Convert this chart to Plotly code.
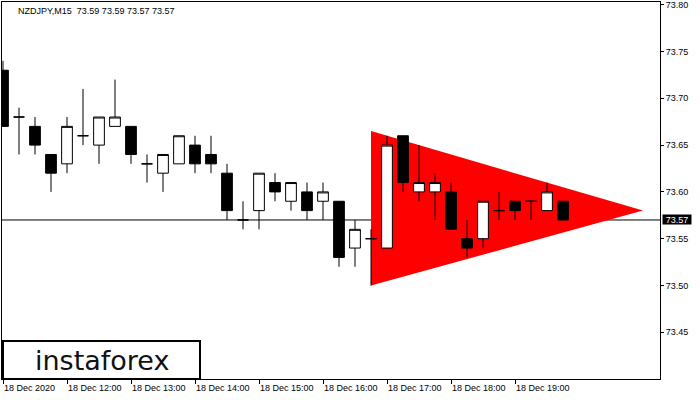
import plotly.graph_objects as go

# ---- data ----
bar_index = list(range(36))  # 15-minute bars starting 18 Dec 11:00
open_ = [73.73, 73.68, 73.67, 73.64, 73.63, 73.66, 73.65, 73.67, 73.67, 73.63,
         73.62, 73.63, 73.65, 73.64, 73.62, 73.57, 73.58, 73.61, 73.59, 73.60,
         73.59, 73.59, 73.54, 73.55, 73.54, 73.66, 73.60, 73.60, 73.60, 73.55,
         73.55, 73.58, 73.59, 73.59, 73.58, 73.59]
high_ = [73.74, 73.69, 73.68, 73.64, 73.68, 73.71, 73.68, 73.72, 73.67, 73.64,
         73.64, 73.66, 73.66, 73.66, 73.63, 73.59, 73.62, 73.62, 73.61, 73.61,
         73.61, 73.59, 73.57, 73.56, 73.66, 73.66, 73.65, 73.62, 73.61, 73.57,
         73.59, 73.60, 73.59, 73.59, 73.61, 73.59]
low_ = [73.67, 73.64, 73.64, 73.60, 73.62, 73.65, 73.63, 73.67, 73.63, 73.61,
        73.60, 73.63, 73.62, 73.62, 73.57, 73.56, 73.56, 73.59, 73.58, 73.57,
        73.57, 73.52, 73.52, 73.50, 73.54, 73.60, 73.59, 73.57, 73.56, 73.53,
        73.54, 73.57, 73.57, 73.57, 73.58, 73.57]
close_ = [73.67, 73.68, 73.65, 73.62, 73.67, 73.66, 73.68, 73.68, 73.64, 73.63,
          73.64, 73.66, 73.63, 73.63, 73.58, 73.57, 73.62, 73.60, 73.61, 73.58,
          73.60, 73.53, 73.56, 73.55, 73.65, 73.61, 73.61, 73.61, 73.56, 73.54,
          73.59, 73.58, 73.58, 73.59, 73.60, 73.57]

current_price = 73.57
current_label = "73.57"

# bearish symmetrical triangle pattern (bar index, price)
tri_x = [23, 40, 23]
tri_y = [73.665, 73.58, 73.50]

x_tick_index = [0, 4, 8, 12, 16, 20, 24, 28, 32]
x_tick_text = ["18 Dec 2020", "18 Dec 12:00", "18 Dec 13:00", "18 Dec 14:00",
               "18 Dec 15:00", "18 Dec 16:00", "18 Dec 17:00", "18 Dec 18:00",
               "18 Dec 19:00"]
y_tick_vals = [73.45, 73.50, 73.55, 73.60, 73.65, 73.70, 73.75, 73.80]
y_tick_text = ["73.45", "73.50", "73.55", "73.60", "73.65", "73.70", "73.75", "73.80"]

title_text = "NZDJPY,M15  73.59 73.59 73.57 73.57"
logo_text = "instaforex"

FONT = "Liberation Sans"

fig = go.Figure()

fig.add_trace(go.Candlestick(
    x=bar_index, open=open_, high=high_, low=low_, close=close_,
    increasing=dict(line=dict(color="black", width=1), fillcolor="white"),
    decreasing=dict(line=dict(color="black", width=1), fillcolor="black"),
    whiskerwidth=0, hoverinfo="skip", showlegend=False))

# triangle pattern drawn below the candles
tri_path = "M " + " L ".join(f"{x},{y}" for x, y in zip(tri_x, tri_y)) + " Z"
fig.add_shape(type="path", path=tri_path, xref="x", yref="y",
              fillcolor="#ff0000", line=dict(width=0), layer="below")
# current price line (above triangle, below candles)
fig.add_shape(type="line", xref="paper", yref="y", x0=0, x1=1,
              y0=current_price, y1=current_price,
              line=dict(color="black", width=1), layer="below")

fig.update_layout(
    width=700, height=400,
    margin=dict(l=2, r=40, t=2, b=21, autoexpand=False),
    paper_bgcolor="white", plot_bgcolor="white",
    boxgap=0.33, boxgroupgap=0,
    showlegend=False,
    font=dict(family=FONT, size=9, color="black"),
    title=dict(text=title_text, x=18 / 700, xanchor="left", xref="container",
               y=1 - 10.5 / 400, yanchor="middle", yref="container",
               font=dict(family=FONT, size=9, color="black")),
)

fig.update_xaxes(
    range=[-0.0625, 41.0625], rangeslider=dict(visible=False),
    tickmode="array", tickvals=x_tick_index, ticktext=x_tick_text,
    ticks="outside", ticklen=4, tickcolor="black", tickwidth=1,
    ticklabelposition="outside right", automargin=False,
    showgrid=False, zeroline=False,
    showline=True, linecolor="black", linewidth=1, mirror=True,
    tickfont=dict(family=FONT, size=9, color="black"),
)
fig.update_yaxes(
    range=[73.4001, 73.8029], side="right",
    tickmode="array", tickvals=y_tick_vals, ticktext=y_tick_text,
    ticks="outside", ticklen=3, tickcolor="black", tickwidth=1,
    ticklabeloverflow="allow", automargin=False,
    showgrid=False, zeroline=False,
    showline=True, linecolor="black", linewidth=1, mirror=True,
    tickfont=dict(family=FONT, size=9, color="black"),
)

# current price label on the right axis
fig.add_annotation(
    x=1.003, xref="paper", xanchor="left",
    y=current_price, yref="y", yanchor="middle",
    text=current_label, showarrow=False,
    bgcolor="black", font=dict(family=FONT, size=9, color="white"),
    width=28, height=9, borderpad=0, align="center")

# logo box
fig.add_shape(type="rect", xref="paper", yref="paper",
              x0=0.0015, x1=0.3009, y0=0.0, y1=0.1008,
              line=dict(color="black", width=2), fillcolor="white", layer="above")
fig.add_annotation(
    x=0.152, xref="paper", y=0.050, yref="paper",
    text=logo_text, showarrow=False, xanchor="center", yanchor="middle",
    font=dict(family="DejaVu Sans", size=27, color="#111111"))

fig.write_html("out.html", config={"displayModeBar": False},
               post_script="document.body.style.margin='0';")
